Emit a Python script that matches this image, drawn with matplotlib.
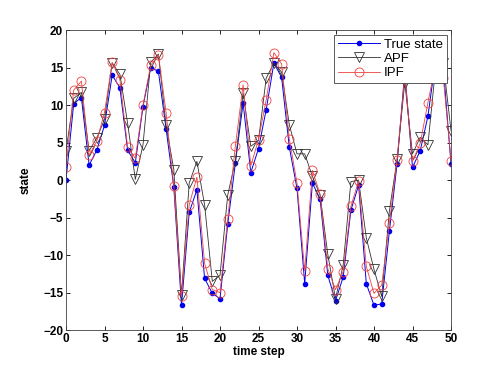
import matplotlib
matplotlib.use("Agg")
import matplotlib.pyplot as plt
import numpy as np

plt.rcParams['font.family'] = ['Liberation Sans', 'DejaVu Sans']

# time steps 0..50
TimeSteps = list(range(51))

TrueState = [0, 10.2, 11, 2, 4, 7.3, 14, 12.3, 4, 2.3,
             9.8, 15, 14.5, 6.8, -0.9, -16.7, -4.3, -1.3, -13.1, -15.1,
             -15.8, -5.9, 2.3, 10.3, 1.0, 4.2, 9.4, 15.6, 13.7, 4.4,
             -1.1, -13.8, -0.4, -2.5, -12.7, -16.1, -12.9, -4, -0.7, -13.8,
             -16.7, -16.5, -6.8, 2.2, 14.5, 1.7, 3.9, 8.5, 16, 15,
             2.2]

APF = [3.9, 10.9, 11.7, 3.9, 5.6, 8.1, 15.6, 14.1, 7.6, 0.1,
       4.7, 15.7, 16.8, 7.3, 1.4, -15.3, -0.4, 2.5, -3.3, -13.5,
       -12.7, -2, 2.6, 11.6, 4.5, 5.3, 13.6, 15.6, 14.4, 7.4,
       3.5, 3.5, 0.5, -2, -9.9, -15.8, -11.3, -0.2, 0, -7.7,
       -11.9, -15.5, -4.1, 2.8, 13, 3.5, 5.7, 4.7, 15, 15.6,
       6.6]

IPF = [1.7, 12, 13.2, 3.3, 5.2, 9, 15.7, 13.4, 4.4, 2.9,
       10, 15.3, 16.7, 9, -0.8, -15.5, -3.3, 0.4, -11.1, -14.6,
       -15, -5.2, 4.6, 12.7, 1.9, 5.4, 10.7, 17, 15.5, 5.5,
       -0.4, -12.1, 1.3, -1.9, -11.8, -14.6, -12.2, -3.5, -0.1, -11.5,
       -15.1, -14, -5.7, 2.7, 14, 2.5, 4.9, 10.3, 15.5, 13.6,
       2.6]

Fig = plt.figure(figsize=(5, 3.76), dpi=100)
Ax = Fig.add_axes([0.132, 0.122, 0.770, 0.798])

Ax.plot(TimeSteps, TrueState, color='#0000ee', marker='.', markersize=6, linewidth=0.7, label='True state')
Ax.plot(TimeSteps, APF, color='#303030', marker='v', markersize=6.5, markerfacecolor='none',
        markeredgewidth=0.6, linewidth=0.6, label='APF')
Ax.plot(TimeSteps, IPF, color='#f04040', marker='o', markersize=6.5, markerfacecolor='none',
        markeredgewidth=0.6, linewidth=0.6, label='IPF')

Ax.set_xlim(0, 50)
Ax.set_ylim(-20, 20)
Ax.set_xticks(np.arange(0, 51, 5))
Ax.set_yticks(np.arange(-20, 21, 5))
Ax.tick_params(direction='in', length=3, width=0.6, labelsize=8.5, pad=2, top=True, right=True)
for Label in Ax.get_xticklabels() + Ax.get_yticklabels():
    Label.set_fontweight('bold')
for Spine in Ax.spines.values():
    Spine.set_linewidth(0.6)
    Spine.set_color('#404040')

Ax.set_xlabel('time step', fontsize=8.5, fontweight='bold', labelpad=1)
Ax.set_ylabel('state', fontsize=8.5, fontweight='bold', labelpad=8)

Leg = Ax.legend(loc='upper right', fontsize=9.5, fancybox=False, framealpha=1,
                edgecolor='#404040', borderpad=0.3, labelspacing=0.15,
                handlelength=3.2, handletextpad=0.3, borderaxespad=0,
                bbox_to_anchor=(0.99, 0.985))
Leg.get_frame().set_linewidth(0.6)

Fig.savefig('out.png', dpi=100)
